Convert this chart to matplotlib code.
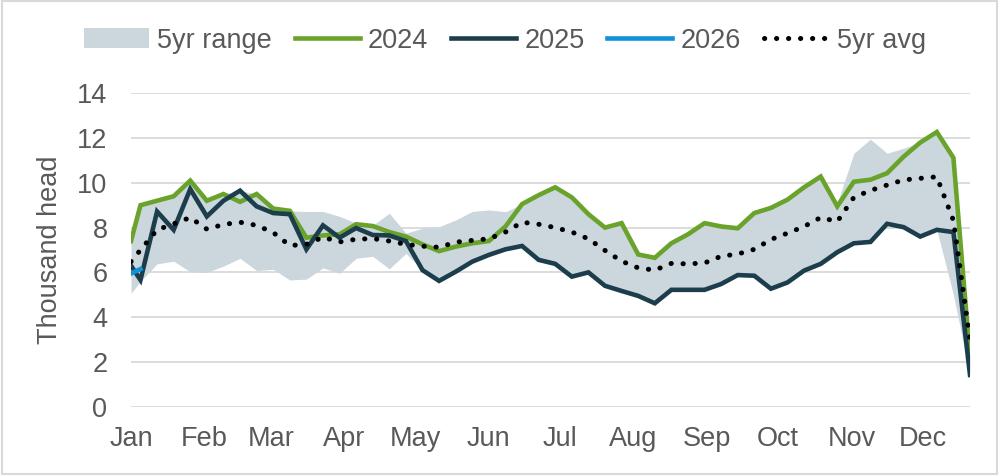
import matplotlib
matplotlib.use("Agg")
import matplotlib.pyplot as plt
import matplotlib.dates as mdates
from matplotlib.patches import Patch, Rectangle
from matplotlib.lines import Line2D
import pandas as pd

plt.rcParams['font.family'] = ['Liberation Sans', 'DejaVu Sans']

# ---- data ----
week_dates = pd.DatetimeIndex([pd.Timestamp('2025-01-01')]).append(
    pd.date_range('2025-01-05', periods=51, freq='7D'))

y2024 = [7.4, 9.0, 9.2, 9.4, 10.1, 9.2, 9.5, 9.15, 9.5, 8.85, 8.75, 7.55, 7.65, 7.7,
         8.15, 8.07, 7.8, 7.6, 7.25, 6.95, 7.15, 7.3, 7.4, 8.05, 9.05, 9.45, 9.8, 9.35,
         8.6, 8.0, 8.2, 6.8, 6.65, 7.3, 7.7, 8.2, 8.05, 7.97, 8.65, 8.88, 9.25, 9.8,
         10.28, 8.95, 10.05, 10.14, 10.43, 11.17, 11.8, 12.27, 11.12, 2.2]
y2025 = [6.3, 5.66, 8.72, 7.9, 9.72, 8.5, 9.2, 9.65, 8.95, 8.65, 8.6, 7.03, 8.1, 7.55,
         7.98, 7.67, 7.65, 7.4, 6.1, 5.62, 6.03, 6.48, 6.78, 7.03, 7.18, 6.56, 6.38, 5.81,
         6.0, 5.4, 5.17, 4.95, 4.62, 5.22, 5.22, 5.22, 5.48, 5.88, 5.85, 5.27, 5.55, 6.08,
         6.38, 6.9, 7.3, 7.36, 8.17, 8.02, 7.6, 7.9, 7.8, 1.42]
y2026 = [5.95, 6.15]
avg5 = [6.48, 7.0, 7.9, 8.17, 8.45, 7.93, 8.14, 8.24, 8.1, 7.78, 7.2, 7.25, 7.57, 7.36,
        7.48, 7.51, 7.4, 7.25, 7.17, 7.12, 7.35, 7.43, 7.5, 7.8, 8.24, 8.15, 8.0, 7.8,
        7.5, 6.98, 6.5, 6.2, 6.1, 6.4, 6.38, 6.42, 6.72, 6.82, 7.03, 7.47, 7.75, 8.05,
        8.45, 8.27, 9.35, 9.66, 9.9, 10.13, 10.2, 10.27, 8.32, 2.98]
range_hi = [7.4, 9.0, 9.2, 9.4, 10.1, 9.2, 9.5, 9.65, 9.5, 8.85, 8.75, 8.72, 8.72, 8.5,
            8.2, 8.1, 8.64, 7.75, 7.97, 8.04, 8.34, 8.72, 8.79, 8.71, 9.05, 9.45, 9.8, 9.35,
            8.6, 8.0, 8.2, 6.8, 6.65, 7.3, 7.7, 8.2, 8.05, 7.97, 8.65, 8.88, 9.25, 9.8,
            10.28, 9.1, 11.32, 11.95, 11.32, 11.55, 11.8, 12.27, 11.12, 2.2]
range_lo = [5.07, 5.6, 6.38, 6.5, 6.03, 6.0, 6.28, 6.63, 6.08, 6.14, 5.66, 5.7, 6.2, 5.96,
            6.63, 6.72, 6.16, 6.85, 6.1, 5.62, 6.03, 6.48, 6.78, 7.03, 7.18, 6.56, 6.38, 5.81,
            6.0, 5.4, 5.17, 4.95, 4.62, 5.22, 5.22, 5.22, 5.48, 5.88, 5.85, 5.27, 5.55, 6.08,
            6.38, 6.9, 7.3, 7.36, 8.17, 8.02, 7.6, 7.9, 5.0, 1.42]
y_ticks = [0, 2, 4, 6, 8, 10, 12, 14]
y_label = "Thousand head"

# ---- style ----
c_band = '#CBD6DD'
c_2024 = '#6AA32C'
c_2025 = '#1C3E4C'
c_2026 = '#0F93D8'
c_text = '#595959'
c_grid = '#D9D9D9'
fs = 19.5

fig = plt.figure(figsize=(10, 4.75), dpi=100)
ax = fig.add_axes([0.131, 0.1438, 0.839, 0.6598])

ax.fill_between(week_dates, range_lo, range_hi, color=c_band, lw=0, zorder=1)
ax.plot(week_dates, y2024, color=c_2024, lw=3.3, zorder=3, solid_joinstyle='miter')
ax.plot(week_dates, y2025, color=c_2025, lw=3.3, zorder=4, solid_joinstyle='miter')
ax.plot(week_dates[:len(y2026)], y2026, color=c_2026, lw=3.3, zorder=5)
ax.plot(week_dates, avg5, color='black', lw=3.6, linestyle=(0, (0.05, 2.35)),
        dash_capstyle='round', zorder=6)

ax.set_xlim(week_dates[0], week_dates[-1])
ax.set_ylim(0, 14)
ax.set_yticks(y_ticks)
ax.xaxis.set_major_locator(mdates.MonthLocator())
ax.xaxis.set_major_formatter(mdates.DateFormatter('%b'))
ax.grid(axis='y', color=c_grid, lw=1.3, zorder=0)
ax.set_axisbelow(True)
for s in ax.spines.values():
    s.set_visible(False)
ax.tick_params(axis='both', length=0, labelsize=fs, labelcolor=c_text)
ax.tick_params(axis='y', pad=17)
ax.tick_params(axis='x', pad=14)
ax.set_ylabel(y_label, fontsize=fs, color=c_text)
ax.yaxis.set_label_coords(-0.081, 0.5)

handles = [Patch(facecolor=c_band, edgecolor='none'),
           Line2D([], [], color=c_2024, lw=3.3),
           Line2D([], [], color=c_2025, lw=3.3),
           Line2D([], [], color=c_2026, lw=3.3),
           Line2D([], [], color='black', lw=3.6, linestyle=(0, (0.05, 2.35)),
                  dash_capstyle='round')]
labels = ['5yr range', '2024', '2025', '2026', '5yr avg']
leg = fig.legend(handles, labels, loc='center', bbox_to_anchor=(0.505, 0.914), ncol=5,
                 frameon=False, fontsize=fs, handlelength=2.4, handleheight=0.75,
                 handletextpad=0.3, columnspacing=0.85, labelcolor=c_text)

fig.patches.append(Rectangle((0.002, 0.003), 0.995, 0.994, transform=fig.transFigure,
                             fill=False, edgecolor='#D9D9D9', lw=1.5))

fig.savefig('out.png', dpi=100, facecolor='white')
